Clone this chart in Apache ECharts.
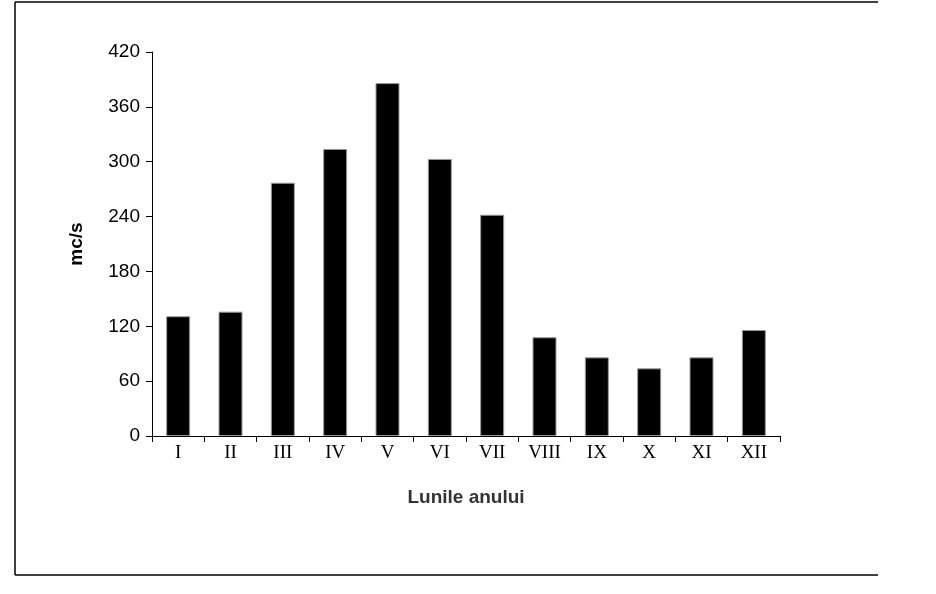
<!DOCTYPE html>
<html><head><meta charset="utf-8">
<script src="https://cdn.jsdelivr.net/npm/echarts@6/dist/echarts.min.js"></script>
<style>html,body{margin:0;padding:0;background:#fff}#c{width:936px;height:594px}</style>
</head><body><div id="c"></div>
<script>
const categories = ['I','II','III','IV','V','VI','VII','VIII','IX','X','XI','XII'];
const values = [131,136,277,314,386,303,242,108,86,74,86,116];
const yTicks = [0,60,120,180,240,300,360,420];
const chart = echarts.init(document.getElementById('c'));
chart.setOption({
  animation:false,
  grid:{left:152,right:156,top:52,bottom:158},
  graphic:[
    {type:'line',shape:{x1:15,y1:2,x2:878,y2:2},style:{stroke:'#000',lineWidth:1.5}},
    {type:'line',shape:{x1:15,y1:2,x2:15,y2:575},style:{stroke:'#000',lineWidth:1.5}},
    {type:'line',shape:{x1:15,y1:575,x2:878,y2:575},style:{stroke:'#000',lineWidth:1.5}}
  ],
  xAxis:{type:'category',data:categories,
    name:'Lunile anului',nameLocation:'middle',nameGap:52,
    nameTextStyle:{fontFamily:'Liberation Sans',fontWeight:'bold',fontSize:19,color:'#333'},
    axisLine:{lineStyle:{color:'#000'}},axisTick:{show:true,length:6,lineStyle:{color:'#000'}},
    axisLabel:{fontFamily:'Liberation Serif',fontSize:19,color:'#000',margin:8}},
  yAxis:{type:'value',min:yTicks[0],max:yTicks[yTicks.length-1],interval:60,
    name:'mc/s',nameLocation:'middle',nameGap:66,
    nameTextStyle:{fontFamily:'Liberation Sans',fontWeight:'bold',fontSize:19,color:'#000'},
    axisLine:{show:true,lineStyle:{color:'#000'}},axisTick:{show:true,length:6,lineStyle:{color:'#000'}},
    splitLine:{show:false},
    axisLabel:{fontFamily:'Liberation Sans',fontSize:19,color:'#000',margin:12}},
  series:[{type:'bar',data:values,barWidth:24,
    itemStyle:{color:'#000',borderColor:'#999',borderWidth:1}}]
});
</script></body></html>
